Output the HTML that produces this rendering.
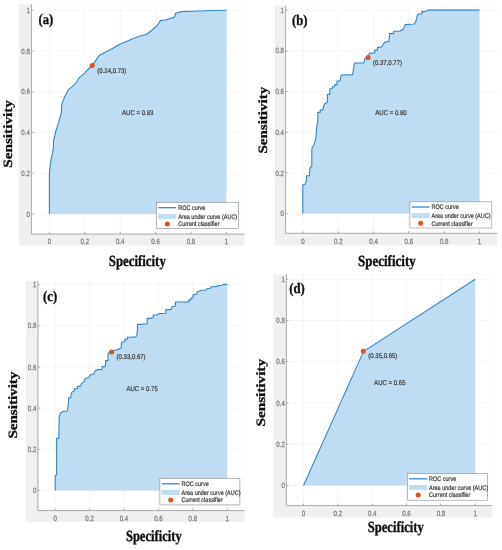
<!DOCTYPE html>
<html lang="en">
<head>
<meta charset="utf-8">
<title>ROC curves</title>
<style>
html,body{margin:0;padding:0;background:#ffffff;}
body{width:502px;height:550px;overflow:hidden;}
svg{display:block;}
.s{font-family:"Liberation Sans",sans-serif;stroke-width:0.2px;}
.b{font-family:"Liberation Serif",serif;font-weight:bold;stroke:#111;stroke-width:0.3px;}
</style>
</head>
<body>
<svg text-rendering="geometricPrecision" width="502" height="550" viewBox="0 0 502 550">
<defs><filter id="soft" x="0" y="0" width="502" height="550" filterUnits="userSpaceOnUse"><feGaussianBlur stdDeviation="0.45"/></filter></defs>
<rect width="502" height="550" fill="#ffffff"/>
<g filter="url(#soft)">
<rect x="18.7" y="4.3" width="225.80" height="241.20" fill="#f0f0f0"/>
<rect x="31.4" y="4.3" width="213.10" height="229.80" fill="#ffffff"/>
<path d="M49.40 4.3V234.1M31.4 214.00H244.5M84.80 4.3V234.1M31.4 173.28H244.5M120.20 4.3V234.1M31.4 132.56H244.5M155.60 4.3V234.1M31.4 91.84H244.5M191.00 4.3V234.1M31.4 51.12H244.5M226.40 4.3V234.1M31.4 10.40H244.5" stroke="#efefef" stroke-width="0.6" fill="none"/>
<path d="M49.4 214.0L49.4 172.8L50.8 160.8L52.6 152.4L53.4 147.6L53.4 141.6L55.6 132.0L58.6 122.4L61.4 112.4L61.8 104.0L64.4 97.4L68.0 90.2L71.6 87.2L75.2 84.2L78.8 78.2L84.8 72.8L89.6 68.0L92.3 65.4L95.0 61.6L99.8 55.0L110.6 49.6L119.0 44.8L128.6 40.6L137.0 37.0L146.6 34.2L152.2 30.0L157.0 25.8L160.6 20.4L164.2 20.2L174.4 17.4L175.6 13.2L181.0 11.6L193.0 11.2L205.0 10.8L226.4 10.2L226.4 214.0L49.4 214.0Z" fill="#bedcf2"/>
<path d="M49.4 214.0L49.4 172.8L50.8 160.8L52.6 152.4L53.4 147.6L53.4 141.6L55.6 132.0L58.6 122.4L61.4 112.4L61.8 104.0L64.4 97.4L68.0 90.2L71.6 87.2L75.2 84.2L78.8 78.2L84.8 72.8L89.6 68.0L92.3 65.4L95.0 61.6L99.8 55.0L110.6 49.6L119.0 44.8L128.6 40.6L137.0 37.0L146.6 34.2L152.2 30.0L157.0 25.8L160.6 20.4L164.2 20.2L174.4 17.4L175.6 13.2L181.0 11.6L193.0 11.2L205.0 10.8L226.4 10.2" fill="none" stroke="#3187c8" stroke-width="1.1" stroke-linejoin="round"/>
<path d="M31.4 4.3V234.1H244.5M49.40 234.1v-2M31.4 214.00h2M84.80 234.1v-2M31.4 173.28h2M120.20 234.1v-2M31.4 132.56h2M155.60 234.1v-2M31.4 91.84h2M191.00 234.1v-2M31.4 51.12h2M226.40 234.1v-2M31.4 10.40h2" stroke="#a0a0a0" stroke-width="0.9" fill="none"/>
<text class="s" transform="translate(29.80,216.60) scale(1,1.25)" font-size="6.1" fill="#7a7a7a" text-anchor="end" stroke="#7a7a7a">0</text>
<text class="s" transform="translate(49.40,244.40) scale(1,1.25)" font-size="6.1" fill="#7a7a7a" text-anchor="middle" stroke="#7a7a7a">0</text>
<text class="s" transform="translate(29.80,175.88) scale(1,1.25)" font-size="6.1" fill="#7a7a7a" text-anchor="end" stroke="#7a7a7a">0.2</text>
<text class="s" transform="translate(84.80,244.40) scale(1,1.25)" font-size="6.1" fill="#7a7a7a" text-anchor="middle" stroke="#7a7a7a">0.2</text>
<text class="s" transform="translate(29.80,135.16) scale(1,1.25)" font-size="6.1" fill="#7a7a7a" text-anchor="end" stroke="#7a7a7a">0.4</text>
<text class="s" transform="translate(120.20,244.40) scale(1,1.25)" font-size="6.1" fill="#7a7a7a" text-anchor="middle" stroke="#7a7a7a">0.4</text>
<text class="s" transform="translate(29.80,94.44) scale(1,1.25)" font-size="6.1" fill="#7a7a7a" text-anchor="end" stroke="#7a7a7a">0.6</text>
<text class="s" transform="translate(155.60,244.40) scale(1,1.25)" font-size="6.1" fill="#7a7a7a" text-anchor="middle" stroke="#7a7a7a">0.6</text>
<text class="s" transform="translate(29.80,53.72) scale(1,1.25)" font-size="6.1" fill="#7a7a7a" text-anchor="end" stroke="#7a7a7a">0.8</text>
<text class="s" transform="translate(191.00,244.40) scale(1,1.25)" font-size="6.1" fill="#7a7a7a" text-anchor="middle" stroke="#7a7a7a">0.8</text>
<text class="s" transform="translate(29.80,13.00) scale(1,1.25)" font-size="6.1" fill="#7a7a7a" text-anchor="end" stroke="#7a7a7a">1</text>
<text class="s" transform="translate(226.40,244.40) scale(1,1.25)" font-size="6.1" fill="#7a7a7a" text-anchor="middle" stroke="#7a7a7a">1</text>
<circle cx="92.30" cy="65.40" r="2.5" fill="#d9541e"/>
<text class="s" transform="translate(97.30,72.50) scale(1,1.15)" font-size="6.0" fill="#404040" stroke="#404040">(0.24,0.73)</text>
<text class="s" transform="translate(122.00,115.10) scale(1,1.15)" font-size="6.05" fill="#404040" stroke="#404040">AUC = 0.83</text>
<rect x="156.6" y="202.5" width="81.90" height="26.10" fill="#ffffff" stroke="#8c8c8c" stroke-width="0.6"/>
<path d="M158.40 207.70h17.9" stroke="#3187c8" stroke-width="1.3"/>
<rect x="158.40" y="213.80" width="17.9" height="5.0" fill="#bedcf2"/>
<circle cx="167.40" cy="224.00" r="2.5" fill="#d9541e"/>
<text class="s" transform="translate(178.20,209.90) scale(1,1.2)" font-size="5.5" fill="#404040" stroke="#404040">ROC curve</text>
<text class="s" transform="translate(178.20,218.50) scale(1,1.2)" font-size="5.5" fill="#404040" stroke="#404040">Area under curve (AUC)</text>
<text class="s" transform="translate(178.20,226.20) scale(1,1.2)" font-size="5.5" fill="#404040" stroke="#404040">Current classifier</text>
<text class="b" transform="translate(38.40,24.20) scale(1,1.15)" font-size="12.7" fill="#111">(a)</text>
<text class="b" transform="translate(108.80,265.50) scale(1,1.216)" font-size="12.75" fill="#111" textLength="57.00" lengthAdjust="spacingAndGlyphs">Specificity</text>
<text class="b" transform="translate(12.00,167.80) rotate(-90)" font-size="12.75" fill="#111" textLength="67.80" lengthAdjust="spacingAndGlyphs">Sensitivity</text>
<rect x="274.4" y="5.5" width="222.90" height="239.80" fill="#f0f0f0"/>
<rect x="285.6" y="5.5" width="211.70" height="227.80" fill="#ffffff"/>
<path d="M303.00 5.5V233.3M285.6 213.60H497.3M338.28 5.5V233.3M285.6 172.92H497.3M373.56 5.5V233.3M285.6 132.24H497.3M408.84 5.5V233.3M285.6 91.56H497.3M444.12 5.5V233.3M285.6 50.88H497.3M479.40 5.5V233.3M285.6 10.20H497.3" stroke="#efefef" stroke-width="0.6" fill="none"/>
<path d="M302.8 213.6L302.8 184.8L305.2 184.2L306.4 180.6L306.4 175.8L309.4 175.8L310.0 168.0L311.8 166.2L311.8 150.0L312.4 147.2L314.2 144.2L316.0 137.6L316.6 127.4L317.8 121.4L317.8 112.4L320.2 112.4L320.2 110.0L322.6 110.0L324.4 104.0L327.4 102.2L327.4 94.4L329.8 94.4L329.8 88.8L332.2 88.8L332.2 86.7L334.6 86.7L334.6 84.6L337.0 84.6L337.0 81.0L340.0 81.0L341.2 75.0L352.6 74.6L354.4 63.0L364.0 63.0L364.6 58.8L368.0 57.6L369.4 53.4L374.8 52.8L374.8 50.1L377.5 50.1L377.5 47.4L380.2 47.4L382.2 46.2L383.4 43.8L385.2 42.0L388.8 41.4L389.4 36.0L389.4 33.6L393.6 33.6L393.6 31.2L399.6 31.2L403.2 29.4L405.0 24.6L414.0 24.0L415.8 21.6L417.6 14.4L421.8 13.8L421.8 11.6L425.0 11.6L428.4 10.1L479.4 10.1L479.4 213.6L303.0 213.6Z" fill="#bedcf2"/>
<path d="M302.8 213.6L302.8 184.8L305.2 184.2L306.4 180.6L306.4 175.8L309.4 175.8L310.0 168.0L311.8 166.2L311.8 150.0L312.4 147.2L314.2 144.2L316.0 137.6L316.6 127.4L317.8 121.4L317.8 112.4L320.2 112.4L320.2 110.0L322.6 110.0L324.4 104.0L327.4 102.2L327.4 94.4L329.8 94.4L329.8 88.8L332.2 88.8L332.2 86.7L334.6 86.7L334.6 84.6L337.0 84.6L337.0 81.0L340.0 81.0L341.2 75.0L352.6 74.6L354.4 63.0L364.0 63.0L364.6 58.8L368.0 57.6L369.4 53.4L374.8 52.8L374.8 50.1L377.5 50.1L377.5 47.4L380.2 47.4L382.2 46.2L383.4 43.8L385.2 42.0L388.8 41.4L389.4 36.0L389.4 33.6L393.6 33.6L393.6 31.2L399.6 31.2L403.2 29.4L405.0 24.6L414.0 24.0L415.8 21.6L417.6 14.4L421.8 13.8L421.8 11.6L425.0 11.6L428.4 10.1L479.4 10.1" fill="none" stroke="#3187c8" stroke-width="1.1" stroke-linejoin="round"/>
<path d="M285.6 5.5V233.3H497.3M303.00 233.3v-2M285.6 213.60h2M338.28 233.3v-2M285.6 172.92h2M373.56 233.3v-2M285.6 132.24h2M408.84 233.3v-2M285.6 91.56h2M444.12 233.3v-2M285.6 50.88h2M479.40 233.3v-2M285.6 10.20h2" stroke="#a0a0a0" stroke-width="0.9" fill="none"/>
<text class="s" transform="translate(284.00,216.20) scale(1,1.25)" font-size="6.1" fill="#7a7a7a" text-anchor="end" stroke="#7a7a7a">0</text>
<text class="s" transform="translate(303.00,243.60) scale(1,1.25)" font-size="6.1" fill="#7a7a7a" text-anchor="middle" stroke="#7a7a7a">0</text>
<text class="s" transform="translate(284.00,175.52) scale(1,1.25)" font-size="6.1" fill="#7a7a7a" text-anchor="end" stroke="#7a7a7a">0.2</text>
<text class="s" transform="translate(338.28,243.60) scale(1,1.25)" font-size="6.1" fill="#7a7a7a" text-anchor="middle" stroke="#7a7a7a">0.2</text>
<text class="s" transform="translate(284.00,134.84) scale(1,1.25)" font-size="6.1" fill="#7a7a7a" text-anchor="end" stroke="#7a7a7a">0.4</text>
<text class="s" transform="translate(373.56,243.60) scale(1,1.25)" font-size="6.1" fill="#7a7a7a" text-anchor="middle" stroke="#7a7a7a">0.4</text>
<text class="s" transform="translate(284.00,94.16) scale(1,1.25)" font-size="6.1" fill="#7a7a7a" text-anchor="end" stroke="#7a7a7a">0.6</text>
<text class="s" transform="translate(408.84,243.60) scale(1,1.25)" font-size="6.1" fill="#7a7a7a" text-anchor="middle" stroke="#7a7a7a">0.6</text>
<text class="s" transform="translate(284.00,53.48) scale(1,1.25)" font-size="6.1" fill="#7a7a7a" text-anchor="end" stroke="#7a7a7a">0.8</text>
<text class="s" transform="translate(444.12,243.60) scale(1,1.25)" font-size="6.1" fill="#7a7a7a" text-anchor="middle" stroke="#7a7a7a">0.8</text>
<text class="s" transform="translate(284.00,12.80) scale(1,1.25)" font-size="6.1" fill="#7a7a7a" text-anchor="end" stroke="#7a7a7a">1</text>
<text class="s" transform="translate(479.40,243.60) scale(1,1.25)" font-size="6.1" fill="#7a7a7a" text-anchor="middle" stroke="#7a7a7a">1</text>
<circle cx="368.00" cy="57.60" r="2.5" fill="#d9541e"/>
<text class="s" transform="translate(373.00,64.70) scale(1,1.15)" font-size="6.0" fill="#404040" stroke="#404040">(0.37,0.77)</text>
<text class="s" transform="translate(375.30,114.80) scale(1,1.15)" font-size="6.05" fill="#404040" stroke="#404040">AUC = 0.80</text>
<rect x="409.9" y="201.8" width="81.90" height="26.20" fill="#ffffff" stroke="#8c8c8c" stroke-width="0.6"/>
<path d="M411.70 207.00h17.9" stroke="#3187c8" stroke-width="1.3"/>
<rect x="411.70" y="213.10" width="17.9" height="5.0" fill="#bedcf2"/>
<circle cx="420.70" cy="223.30" r="2.5" fill="#d9541e"/>
<text class="s" transform="translate(431.50,209.20) scale(1,1.2)" font-size="5.5" fill="#404040" stroke="#404040">ROC curve</text>
<text class="s" transform="translate(431.50,217.80) scale(1,1.2)" font-size="5.5" fill="#404040" stroke="#404040">Area under curve (AUC)</text>
<text class="s" transform="translate(431.50,225.50) scale(1,1.2)" font-size="5.5" fill="#404040" stroke="#404040">Current classifier</text>
<text class="b" transform="translate(292.00,24.60) scale(1,1.15)" font-size="12.7" fill="#111">(b)</text>
<text class="b" transform="translate(358.00,265.50) scale(1,1.216)" font-size="12.75" fill="#111" textLength="57.70" lengthAdjust="spacingAndGlyphs">Specificity</text>
<text class="b" transform="translate(267.40,153.60) rotate(-90)" font-size="12.75" fill="#111" textLength="66.80" lengthAdjust="spacingAndGlyphs">Sensitivity</text>
<rect x="25.9" y="281.1" width="218.90" height="241.00" fill="#f0f0f0"/>
<rect x="37.9" y="281.1" width="206.90" height="229.50" fill="#ffffff"/>
<path d="M55.20 281.1V510.6M37.9 490.60H244.8M89.60 281.1V510.6M37.9 449.40H244.8M124.00 281.1V510.6M37.9 408.20H244.8M158.40 281.1V510.6M37.9 367.00H244.8M192.80 281.1V510.6M37.9 325.80H244.8M227.20 281.1V510.6M37.9 284.60H244.8" stroke="#efefef" stroke-width="0.6" fill="none"/>
<path d="M55.2 490.6L55.2 476.2L56.6 474.4L56.6 441.4L56.6 438.4L58.8 438.4L59.2 416.4L60.6 412.8L63.0 411.4L67.2 411.0L67.8 408.0L68.6 400.8L68.6 397.8L70.8 397.8L71.4 392.6L74.4 390.8L74.4 388.8L77.4 388.8L77.4 386.4L80.4 386.4L81.6 383.4L84.0 381.6L85.2 378.6L88.8 377.4L90.0 375.0L93.6 373.8L95.4 370.8L97.8 369.6L102.0 369.4L102.0 366.6L105.0 366.6L105.6 363.6L105.6 360.6L108.0 360.6L108.0 354.0L109.8 351.2L117.0 349.8L121.2 348.0L121.4 342.6L124.8 341.4L124.8 339.3L127.3 339.3L127.3 337.2L129.8 337.2L135.8 336.9L137.0 334.8L137.4 328.8L137.4 324.4L140.6 324.4L147.2 323.7L147.2 318.4L149.6 318.4L153.2 317.8L153.2 315.0L156.2 315.0L159.8 313.6L165.8 313.2L165.8 309.6L171.2 309.6L171.8 306.8L175.4 306.0L175.4 302.0L178.6 302.0L188.8 302.0L188.8 299.9L190.9 299.9L190.9 297.8L193.0 297.8L193.0 294.8L196.4 294.2L197.2 291.8L200.8 290.4L205.6 290.0L206.8 288.8L210.4 288.2L211.0 287.0L217.0 286.4L218.2 285.6L222.4 285.2L223.0 284.4L227.2 284.4L227.2 490.6L55.2 490.6Z" fill="#bedcf2"/>
<path d="M55.2 490.6L55.2 476.2L56.6 474.4L56.6 441.4L56.6 438.4L58.8 438.4L59.2 416.4L60.6 412.8L63.0 411.4L67.2 411.0L67.8 408.0L68.6 400.8L68.6 397.8L70.8 397.8L71.4 392.6L74.4 390.8L74.4 388.8L77.4 388.8L77.4 386.4L80.4 386.4L81.6 383.4L84.0 381.6L85.2 378.6L88.8 377.4L90.0 375.0L93.6 373.8L95.4 370.8L97.8 369.6L102.0 369.4L102.0 366.6L105.0 366.6L105.6 363.6L105.6 360.6L108.0 360.6L108.0 354.0L109.8 351.2L117.0 349.8L121.2 348.0L121.4 342.6L124.8 341.4L124.8 339.3L127.3 339.3L127.3 337.2L129.8 337.2L135.8 336.9L137.0 334.8L137.4 328.8L137.4 324.4L140.6 324.4L147.2 323.7L147.2 318.4L149.6 318.4L153.2 317.8L153.2 315.0L156.2 315.0L159.8 313.6L165.8 313.2L165.8 309.6L171.2 309.6L171.8 306.8L175.4 306.0L175.4 302.0L178.6 302.0L188.8 302.0L188.8 299.9L190.9 299.9L190.9 297.8L193.0 297.8L193.0 294.8L196.4 294.2L197.2 291.8L200.8 290.4L205.6 290.0L206.8 288.8L210.4 288.2L211.0 287.0L217.0 286.4L218.2 285.6L222.4 285.2L223.0 284.4L227.2 284.4" fill="none" stroke="#3187c8" stroke-width="1.1" stroke-linejoin="round"/>
<path d="M37.9 281.1V510.6H244.8M55.20 510.6v-2M37.9 490.60h2M89.60 510.6v-2M37.9 449.40h2M124.00 510.6v-2M37.9 408.20h2M158.40 510.6v-2M37.9 367.00h2M192.80 510.6v-2M37.9 325.80h2M227.20 510.6v-2M37.9 284.60h2" stroke="#a0a0a0" stroke-width="0.9" fill="none"/>
<text class="s" transform="translate(36.30,493.20) scale(1,1.25)" font-size="6.1" fill="#7a7a7a" text-anchor="end" stroke="#7a7a7a">0</text>
<text class="s" transform="translate(55.20,520.90) scale(1,1.25)" font-size="6.1" fill="#7a7a7a" text-anchor="middle" stroke="#7a7a7a">0</text>
<text class="s" transform="translate(36.30,452.00) scale(1,1.25)" font-size="6.1" fill="#7a7a7a" text-anchor="end" stroke="#7a7a7a">0.2</text>
<text class="s" transform="translate(89.60,520.90) scale(1,1.25)" font-size="6.1" fill="#7a7a7a" text-anchor="middle" stroke="#7a7a7a">0.2</text>
<text class="s" transform="translate(36.30,410.80) scale(1,1.25)" font-size="6.1" fill="#7a7a7a" text-anchor="end" stroke="#7a7a7a">0.4</text>
<text class="s" transform="translate(124.00,520.90) scale(1,1.25)" font-size="6.1" fill="#7a7a7a" text-anchor="middle" stroke="#7a7a7a">0.4</text>
<text class="s" transform="translate(36.30,369.60) scale(1,1.25)" font-size="6.1" fill="#7a7a7a" text-anchor="end" stroke="#7a7a7a">0.6</text>
<text class="s" transform="translate(158.40,520.90) scale(1,1.25)" font-size="6.1" fill="#7a7a7a" text-anchor="middle" stroke="#7a7a7a">0.6</text>
<text class="s" transform="translate(36.30,328.40) scale(1,1.25)" font-size="6.1" fill="#7a7a7a" text-anchor="end" stroke="#7a7a7a">0.8</text>
<text class="s" transform="translate(192.80,520.90) scale(1,1.25)" font-size="6.1" fill="#7a7a7a" text-anchor="middle" stroke="#7a7a7a">0.8</text>
<text class="s" transform="translate(36.30,287.20) scale(1,1.25)" font-size="6.1" fill="#7a7a7a" text-anchor="end" stroke="#7a7a7a">1</text>
<text class="s" transform="translate(227.20,520.90) scale(1,1.25)" font-size="6.1" fill="#7a7a7a" text-anchor="middle" stroke="#7a7a7a">1</text>
<circle cx="111.60" cy="352.00" r="2.5" fill="#d9541e"/>
<text class="s" transform="translate(116.60,359.10) scale(1,1.15)" font-size="6.0" fill="#404040" stroke="#404040">(0.33,0.67)</text>
<text class="s" transform="translate(126.40,390.70) scale(1,1.15)" font-size="6.05" fill="#404040" stroke="#404040">AUC = 0.75</text>
<rect x="159.9" y="478.6" width="80.00" height="26.30" fill="#ffffff" stroke="#8c8c8c" stroke-width="0.6"/>
<path d="M161.70 483.80h17.9" stroke="#3187c8" stroke-width="1.3"/>
<rect x="161.70" y="489.90" width="17.9" height="5.0" fill="#bedcf2"/>
<circle cx="170.70" cy="500.10" r="2.5" fill="#d9541e"/>
<text class="s" transform="translate(181.50,486.00) scale(1,1.2)" font-size="5.5" fill="#404040" stroke="#404040">ROC curve</text>
<text class="s" transform="translate(181.50,494.60) scale(1,1.2)" font-size="5.5" fill="#404040" stroke="#404040">Area under curve (AUC)</text>
<text class="s" transform="translate(181.50,502.30) scale(1,1.2)" font-size="5.5" fill="#404040" stroke="#404040">Current classifier</text>
<text class="b" transform="translate(43.10,301.00) scale(1,1.15)" font-size="12.7" fill="#111">(c)</text>
<text class="b" transform="translate(125.90,541.30) scale(1,1.216)" font-size="12.75" fill="#111" textLength="55.80" lengthAdjust="spacingAndGlyphs">Specificity</text>
<text class="b" transform="translate(17.00,438.60) rotate(-90)" font-size="12.75" fill="#111" textLength="67.00" lengthAdjust="spacingAndGlyphs">Sensitivity</text>
<rect x="273.2" y="274.3" width="219.00" height="243.20" fill="#f0f0f0"/>
<rect x="286.4" y="274.3" width="205.80" height="231.30" fill="#ffffff"/>
<path d="M303.50 274.3V505.6M286.4 485.50H492.2M337.84 274.3V505.6M286.4 444.24H492.2M372.18 274.3V505.6M286.4 402.98H492.2M406.52 274.3V505.6M286.4 361.72H492.2M440.86 274.3V505.6M286.4 320.46H492.2M475.20 274.3V505.6M286.4 279.20H492.2" stroke="#efefef" stroke-width="0.6" fill="none"/>
<path d="M303.5 485.5L363.6 351.4L475.2 279.2L475.2 485.5L303.5 485.5Z" fill="#bedcf2"/>
<path d="M303.5 485.5L363.6 351.4L475.2 279.2" fill="none" stroke="#3187c8" stroke-width="1.1" stroke-linejoin="round"/>
<path d="M286.4 274.3V505.6H492.2M303.50 505.6v-2M286.4 485.50h2M337.84 505.6v-2M286.4 444.24h2M372.18 505.6v-2M286.4 402.98h2M406.52 505.6v-2M286.4 361.72h2M440.86 505.6v-2M286.4 320.46h2M475.20 505.6v-2M286.4 279.20h2" stroke="#a0a0a0" stroke-width="0.9" fill="none"/>
<text class="s" transform="translate(284.80,488.10) scale(1,1.25)" font-size="6.1" fill="#7a7a7a" text-anchor="end" stroke="#7a7a7a">0</text>
<text class="s" transform="translate(303.50,515.90) scale(1,1.25)" font-size="6.1" fill="#7a7a7a" text-anchor="middle" stroke="#7a7a7a">0</text>
<text class="s" transform="translate(284.80,446.84) scale(1,1.25)" font-size="6.1" fill="#7a7a7a" text-anchor="end" stroke="#7a7a7a">0.2</text>
<text class="s" transform="translate(337.84,515.90) scale(1,1.25)" font-size="6.1" fill="#7a7a7a" text-anchor="middle" stroke="#7a7a7a">0.2</text>
<text class="s" transform="translate(284.80,405.58) scale(1,1.25)" font-size="6.1" fill="#7a7a7a" text-anchor="end" stroke="#7a7a7a">0.4</text>
<text class="s" transform="translate(372.18,515.90) scale(1,1.25)" font-size="6.1" fill="#7a7a7a" text-anchor="middle" stroke="#7a7a7a">0.4</text>
<text class="s" transform="translate(284.80,364.32) scale(1,1.25)" font-size="6.1" fill="#7a7a7a" text-anchor="end" stroke="#7a7a7a">0.6</text>
<text class="s" transform="translate(406.52,515.90) scale(1,1.25)" font-size="6.1" fill="#7a7a7a" text-anchor="middle" stroke="#7a7a7a">0.6</text>
<text class="s" transform="translate(284.80,323.06) scale(1,1.25)" font-size="6.1" fill="#7a7a7a" text-anchor="end" stroke="#7a7a7a">0.8</text>
<text class="s" transform="translate(440.86,515.90) scale(1,1.25)" font-size="6.1" fill="#7a7a7a" text-anchor="middle" stroke="#7a7a7a">0.8</text>
<text class="s" transform="translate(284.80,281.80) scale(1,1.25)" font-size="6.1" fill="#7a7a7a" text-anchor="end" stroke="#7a7a7a">1</text>
<text class="s" transform="translate(475.20,515.90) scale(1,1.25)" font-size="6.1" fill="#7a7a7a" text-anchor="middle" stroke="#7a7a7a">1</text>
<circle cx="363.30" cy="351.20" r="2.5" fill="#d9541e"/>
<text class="s" transform="translate(368.30,358.30) scale(1,1.15)" font-size="6.0" fill="#404040" stroke="#404040">(0.35,0.65)</text>
<text class="s" transform="translate(374.10,385.40) scale(1,1.15)" font-size="6.05" fill="#404040" stroke="#404040">AUC = 0.65</text>
<rect x="407.4" y="473.6" width="80.20" height="26.60" fill="#ffffff" stroke="#8c8c8c" stroke-width="0.6"/>
<path d="M409.20 478.80h17.9" stroke="#3187c8" stroke-width="1.3"/>
<rect x="409.20" y="484.90" width="17.9" height="5.0" fill="#bedcf2"/>
<circle cx="418.20" cy="495.10" r="2.5" fill="#d9541e"/>
<text class="s" transform="translate(429.00,481.00) scale(1,1.2)" font-size="5.5" fill="#404040" stroke="#404040">ROC curve</text>
<text class="s" transform="translate(429.00,489.60) scale(1,1.2)" font-size="5.5" fill="#404040" stroke="#404040">Area under curve (AUC)</text>
<text class="s" transform="translate(429.00,497.30) scale(1,1.2)" font-size="5.5" fill="#404040" stroke="#404040">Current classifier</text>
<text class="b" transform="translate(289.20,293.00) scale(1,1.15)" font-size="12.7" fill="#111">(d)</text>
<text class="b" transform="translate(367.70,532.20) scale(1,1.216)" font-size="12.75" fill="#111" textLength="56.10" lengthAdjust="spacingAndGlyphs">Specificity</text>
<text class="b" transform="translate(264.60,426.40) rotate(-90)" font-size="12.75" fill="#111" textLength="67.40" lengthAdjust="spacingAndGlyphs">Sensitivity</text>
</g>
</svg>
</body>
</html>
